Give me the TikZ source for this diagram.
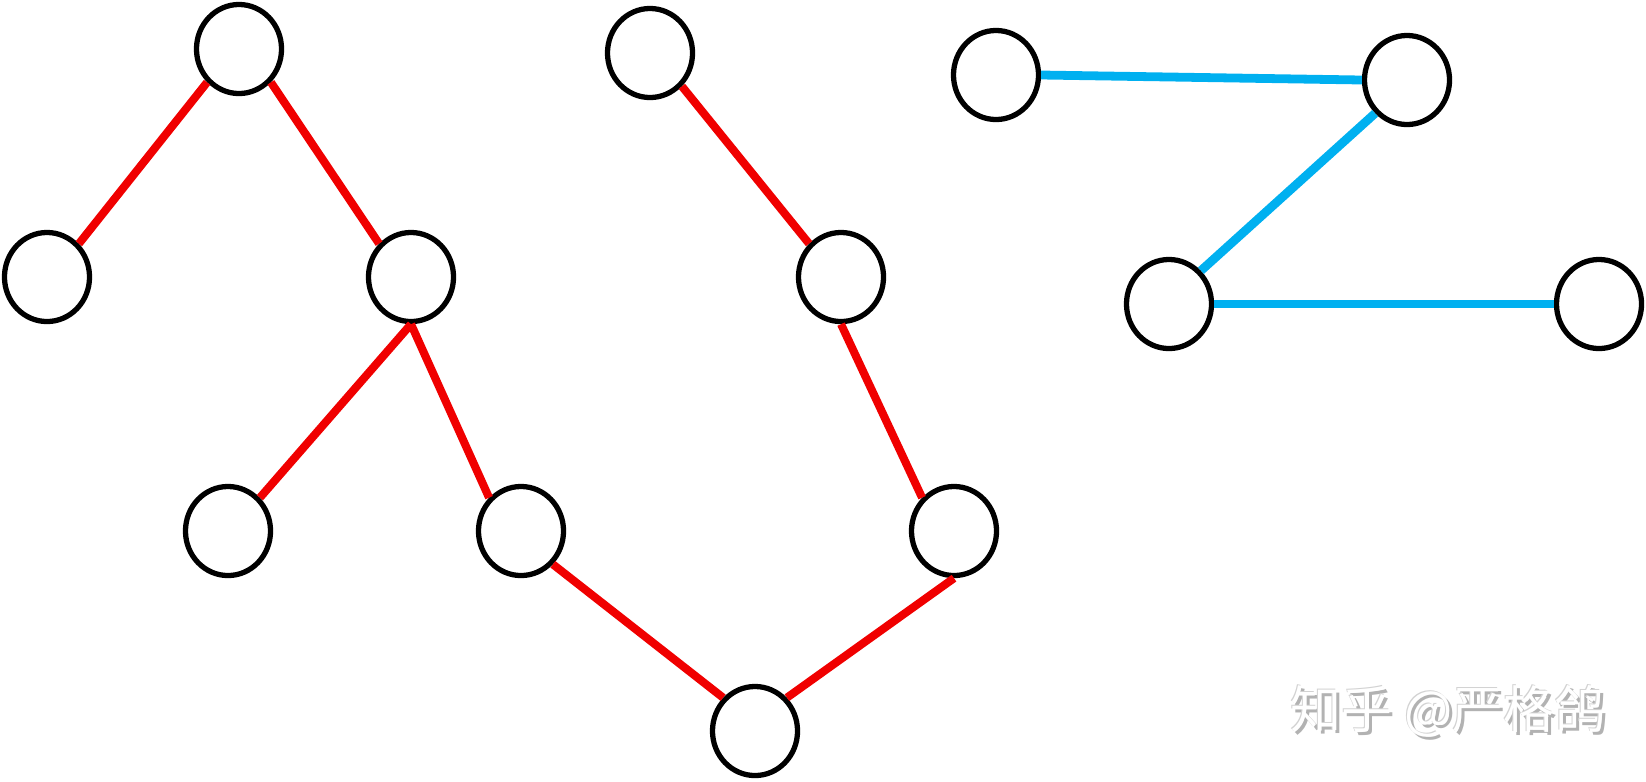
\documentclass[tikz,border=0pt]{standalone}
\usepackage{fontspec}
\newfontfamily\cjk{Noto Sans CJK SC}
\usetikzlibrary{shapes.geometric}
\definecolor{edgered}{RGB}{240,0,0}
\definecolor{edgeblue}{RGB}{0,176,240}

\begin{document}
\begin{tikzpicture}[x=0.01cm,y=-0.01cm]
    \tikzset{
    vertex/.style={ellipse, draw=black, line width=1.5pt, fill=white, minimum width=0.85cm, minimum height=0.89cm, inner sep=0pt},
    red edge/.style={edgered, line width=2.3pt},
    blue edge/.style={edgeblue, line width=2.5pt},
    watermark/.style={font=\cjk\fontsize{14.5pt}{17pt}\selectfont, inner sep=0pt},
    }
    \useasboundingbox (0,0) rectangle (1646,781);

    % First tree.
    \node [vertex] (a) at (239,49)  {};
    \node [vertex] (b) at (47,277)  {};
    \node [vertex] (c) at (411,277) {};
    \node [vertex] (j) at (228,531) {};
    \node [vertex] (k) at (521,531) {};

    % Second tree.
    \node [vertex] (d) at (650,53)  {};
    \node [vertex] (i) at (841,277) {};
    \node [vertex] (m) at (954,531) {};
    \node [vertex] (l) at (755,731) {};

    % Path on the right.
    \node [vertex] (e) at (996,75)  {};
    \node [vertex] (f) at (1407,80) {};
    \node [vertex] (g) at (1169,304) {};
    \node [vertex] (h) at (1599,304) {};

    % Red connections.
    \draw [red edge] (a.south west) -- (b.north east);
    \draw [red edge] (a.south east) -- (c.north west);
    \draw [red edge] (c.south) -- (j.north east);
    \draw [red edge] (c.south) -- (k.north west);
    \draw [red edge] (k.south east) -- (l.north west);
    \draw [red edge] (m.south) -- (l.north east);
    \draw [red edge] (i.south) -- (m.north west);
    \draw [red edge] (d.south east) -- (i.north west);

    % Blue connections.
    \draw [blue edge] (e.east) -- (f.west);
    \draw [blue edge] (f.south west) -- (g.north east);
    \draw [blue edge] (g.east) -- (h.west);

    % Watermark.
    \node [watermark, text=gray!60] (mark shadow) at (1451,714) {知乎 @严格鸽};
    \node [watermark, text=gray!35] (mark edge)   at (1447,710) {知乎 @严格鸽};
    \node [watermark, text=white]   (mark text)   at (1448,711) {知乎 @严格鸽};
\end{tikzpicture}
\end{document}
